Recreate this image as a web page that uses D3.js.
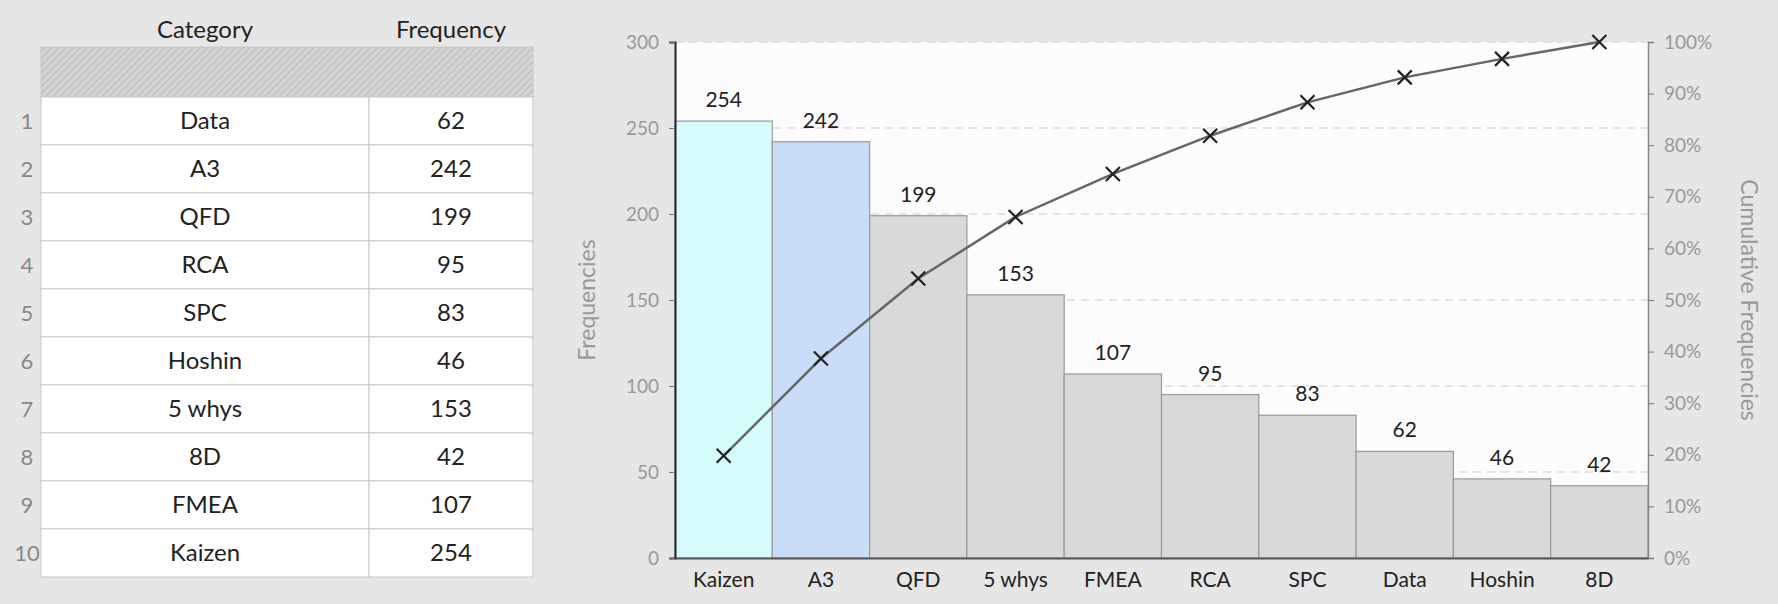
<!DOCTYPE html>
<html><head><meta charset="utf-8">
<script src="https://cdn.jsdelivr.net/npm/d3@7"></script>
<style>body{margin:0;background:#e6e6e6;font-family:Lato,"Open Sans",sans-serif}</style>
</head><body><div id="chart"></div>
<script>
var tableCats = ['Data','A3','QFD','RCA','SPC','Hoshin','5 whys','8D','FMEA','Kaizen'];
var tableFreq = [62,242,199,95,83,46,153,42,107,254];
var leftTicks = [0,50,100,150,200,250,300];
var rightTicks = [0,10,20,30,40,50,60,70,80,90,100];

var width = 1778, height = 604;
var svg = d3.select('#chart').append('svg').attr('width', width).attr('height', height);

var defs = svg.append('defs');
var pat = defs.append('pattern').attr('id','hatch').attr('patternUnits','userSpaceOnUse')
    .attr('width',5).attr('height',5).attr('patternTransform','rotate(45)');
pat.append('rect').attr('width',5).attr('height',5).attr('fill','#d4d4d4');
pat.append('line').attr('x1',0).attr('y1',0).attr('x2',0).attr('y2',5).attr('stroke','#bbb').attr('stroke-width',2);

// table
var tx0 = 41, tx1 = 369, tx2 = 533, rowH = 48, headTop = 47, headH = 50;
var tbl = svg.append('g');
tbl.append('text').attr('x',(tx0+tx1)/2).attr('y',38).attr('text-anchor','middle').attr('font-size',24).attr('fill','#222').text('Category');
tbl.append('text').attr('x',(tx1+tx2)/2).attr('y',38).attr('text-anchor','middle').attr('font-size',24).attr('fill','#222').text('Frequency');
tbl.append('rect').attr('x',tx0).attr('y',headTop).attr('width',tx2-tx0).attr('height',headH).attr('fill','url(#hatch)').attr('stroke','#c8c8c8');
tbl.append('line').attr('x1',tx1).attr('x2',tx1).attr('y1',headTop).attr('y2',headTop+headH).attr('stroke','#c8c8c8');
var rows = tbl.selectAll('.row').data(tableCats).enter().append('g').attr('class','row')
    .attr('transform', function(d,i){ return 'translate(0,' + (headTop+headH+i*rowH) + ')'; });
rows.append('rect').attr('x',tx0).attr('width',tx1-tx0).attr('height',rowH).attr('fill','#fff').attr('stroke','#c8c8c8');
rows.append('rect').attr('x',tx1).attr('width',tx2-tx1).attr('height',rowH).attr('fill','#fff').attr('stroke','#c8c8c8');
rows.append('text').attr('x',(tx0+tx1)/2).attr('y',rowH/2+8).attr('text-anchor','middle').attr('font-size',24).attr('fill','#222').text(function(d){return d;});
rows.append('text').attr('x',(tx1+tx2)/2).attr('y',rowH/2+8).attr('text-anchor','middle').attr('font-size',24).attr('fill','#222').text(function(d,i){return tableFreq[i];});
rows.append('text').attr('x',27).attr('y',rowH/2+8).attr('text-anchor','middle').attr('font-size',22).attr('fill','#888').text(function(d,i){return i+1;});

// pareto data (sorted)
var data = tableCats.map(function(c,i){ return {cat:c, v:tableFreq[i]}; })
    .sort(function(a,b){ return b.v - a.v; });
var total = d3.sum(data, function(d){ return d.v; });
var run = 0;
data.forEach(function(d){ run += d.v; d.cum = run/total*100; });

var px0 = 675, px1 = 1648, py0 = 42, py1 = 558;
var x = d3.scaleBand().domain(data.map(function(d){return d.cat;})).range([px0,px1]).padding(0);
var y = d3.scaleLinear().domain([0,300]).range([py1,py0]);
var y2 = d3.scaleLinear().domain([0,100]).range([py1,py0]);

svg.append('rect').attr('x',px0).attr('y',py0).attr('width',px1-px0).attr('height',py1-py0).attr('fill','#fcfcfc');
svg.append('g').selectAll('line').data(leftTicks.slice(1)).enter().append('line')
    .attr('x1',px0).attr('x2',px1).attr('y1',function(d){return y(d);}).attr('y2',function(d){return y(d);})
    .attr('stroke','#dcdcdc').attr('stroke-width',1.5).attr('stroke-dasharray','8,6');

var colors = ['#d6fbfb','#c9ddf8'];
svg.append('g').selectAll('rect').data(data).enter().append('rect')
    .attr('x',function(d){return x(d.cat);}).attr('width',x.bandwidth())
    .attr('y',function(d){return y(d.v);}).attr('height',function(d){return py1-y(d.v);})
    .attr('fill',function(d,i){return colors[i] || '#d9d9d9';}).attr('stroke','#9a9a9a').attr('stroke-width',1.2);

svg.append('g').selectAll('text').data(data).enter().append('text')
    .attr('x',function(d){return x(d.cat)+x.bandwidth()/2;}).attr('y',function(d){return y(d.v)-14;})
    .attr('text-anchor','middle').attr('font-size',21).attr('fill','#222').text(function(d){return d.v;});

var lAxis = svg.append('g').attr('transform','translate('+px0+',0)')
    .call(d3.axisLeft(y).tickValues(leftTicks).tickSize(6).tickPadding(10));
var rAxis = svg.append('g').attr('transform','translate('+px1+',0)')
    .call(d3.axisRight(y2).tickValues(rightTicks).tickSize(6).tickPadding(10).tickFormat(function(d){return d+'%';}));
var bAxis = svg.append('g').attr('transform','translate(0,'+py1+')')
    .call(d3.axisBottom(x).tickSize(0).tickPadding(14));
[lAxis,rAxis].forEach(function(a){
    a.selectAll('text').attr('font-size',19).attr('fill','#999').attr('font-family','Lato,"Open Sans",sans-serif');
    a.selectAll('line').attr('stroke','#777');
});
lAxis.select('.domain').attr('stroke','#222').attr('stroke-width',2);
rAxis.select('.domain').attr('stroke','#888').attr('stroke-width',1.5);
bAxis.select('.domain').attr('stroke','#555').attr('stroke-width',2);
bAxis.selectAll('text').attr('font-size',21).attr('fill','#222').attr('font-family','Lato,"Open Sans",sans-serif');

svg.append('text').attr('transform','translate(595,'+((py0+py1)/2)+') rotate(-90)')
    .attr('text-anchor','middle').attr('font-size',23).attr('fill','#999').text('Frequencies');
svg.append('text').attr('transform','translate(1741,'+((py0+py1)/2)+') rotate(90)')
    .attr('text-anchor','middle').attr('font-size',23).attr('fill','#999').text('Cumulative Frequencies');

var cx = function(d){ return x(d.cat)+x.bandwidth()/2; };
svg.append('path').datum(data).attr('fill','none').attr('stroke','#666').attr('stroke-width',2.5)
    .attr('d', d3.line().x(cx).y(function(d){return y2(d.cum);}));
var s = 7;
svg.append('g').selectAll('path').data(data).enter().append('path')
    .attr('d', function(d){ var X=cx(d), Y=y2(d.cum);
        return 'M'+(X-s)+','+(Y-s)+'L'+(X+s)+','+(Y+s)+'M'+(X-s)+','+(Y+s)+'L'+(X+s)+','+(Y-s); })
    .attr('stroke','#222').attr('stroke-width',2.2).attr('fill','none');
</script></body></html>
